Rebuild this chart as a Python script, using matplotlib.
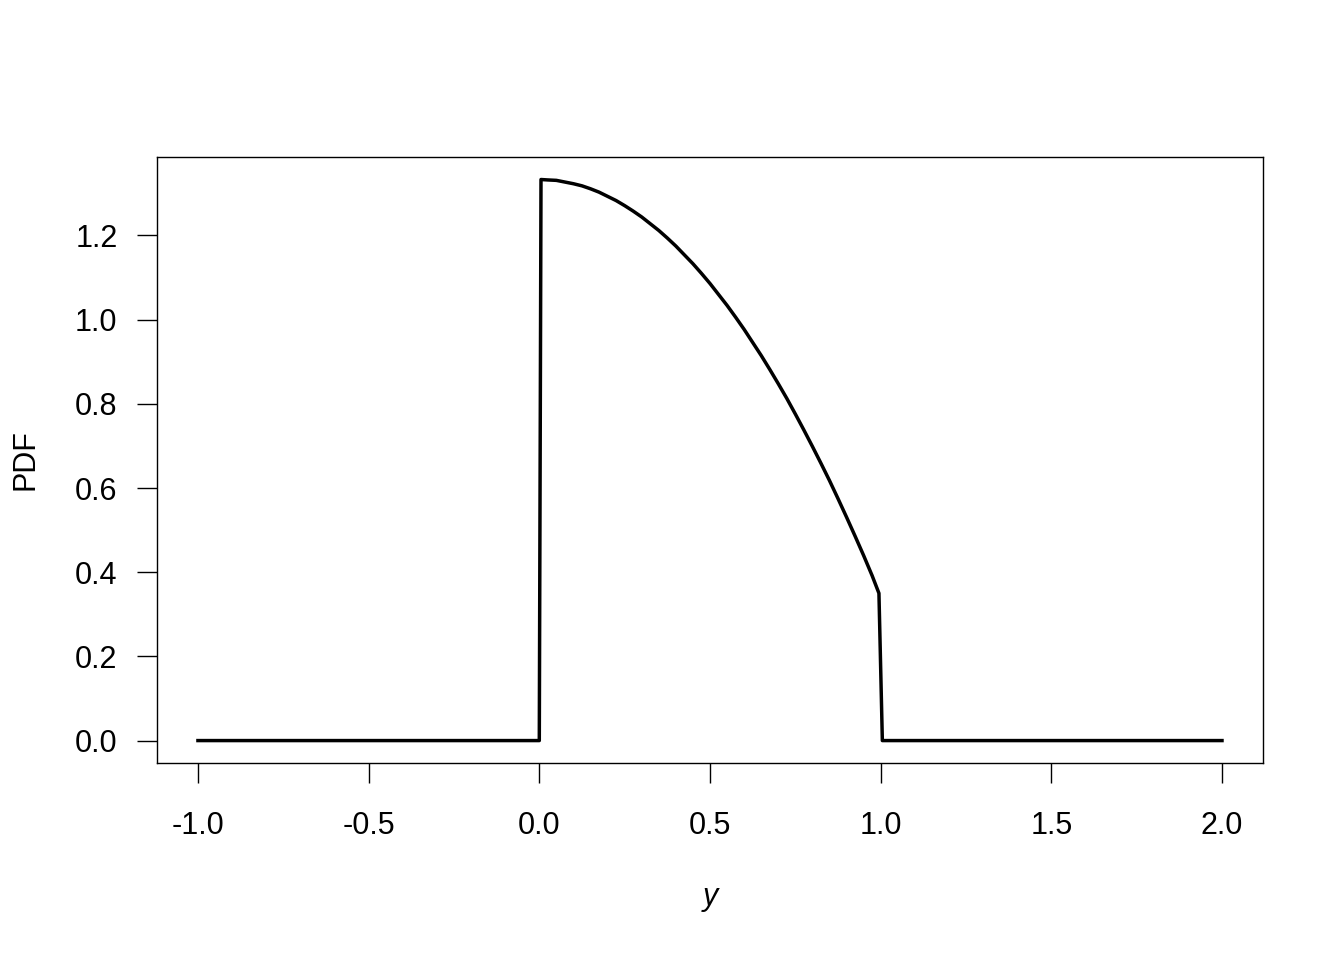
import matplotlib
matplotlib.use("Agg")
import matplotlib.pyplot as plt

# PDF curve
y_vals = [-1.0, 0.0, 0.005, 0.025, 0.05, 0.075, 0.10, 0.125, 0.15, 0.175, 0.20,
          0.225, 0.25, 0.275, 0.30, 0.325, 0.35, 0.375, 0.40, 0.425, 0.45,
          0.475, 0.50, 0.525, 0.55, 0.575, 0.60, 0.625, 0.65, 0.675, 0.70,
          0.725, 0.75, 0.775, 0.80, 0.825, 0.85, 0.875, 0.90, 0.925, 0.95,
          0.975, 0.995, 1.005, 2.0]
pdf_vals = [0.0, 0.0, 1.333, 1.332, 1.331, 1.327, 1.323, 1.318, 1.311, 1.303, 1.293,
            1.283, 1.271, 1.258, 1.244, 1.228, 1.212, 1.194, 1.175, 1.154, 1.133,
            1.110, 1.086, 1.060, 1.034, 1.006, 0.977, 0.946, 0.915, 0.882, 0.848,
            0.813, 0.776, 0.738, 0.699, 0.659, 0.618, 0.575, 0.531, 0.486, 0.440,
            0.392, 0.350, 0.0, 0.0]

x_ticks = [-1.0, -0.5, 0.0, 0.5, 1.0, 1.5, 2.0]
y_ticks = [0.0, 0.2, 0.4, 0.6, 0.8, 1.0, 1.2]

plt.rcParams['font.family'] = ['Liberation Sans', 'DejaVu Sans']

fig = plt.figure(figsize=(13.44, 9.6), dpi=100)
ax = fig.add_axes([0.1168, 0.2052, 0.8229, 0.6313])

ax.plot(y_vals, pdf_vals, color='black', linewidth=2.5, solid_joinstyle='round')

ax.set_xlim(-1.12, 2.12)
ax.set_ylim(-0.0533, 1.3866)
ax.set_xticks(x_ticks)
ax.set_xticklabels([f"{t:.1f}" for t in x_ticks])
ax.set_yticks(y_ticks)
ax.set_yticklabels([f"{t:.1f}" for t in y_ticks])

for s in ax.spines.values():
    s.set_linewidth(1.0)
ax.tick_params(axis='both', direction='out', length=14.4, width=1.0,
               labelsize=22, color='black')
ax.tick_params(axis='x', pad=20)
ax.tick_params(axis='y', pad=14)

ax.set_xlabel("y", fontsize=22, fontstyle='italic', labelpad=30)
ax.set_ylabel("PDF", fontsize=22, labelpad=25)

fig.savefig("out.png", dpi=100)
